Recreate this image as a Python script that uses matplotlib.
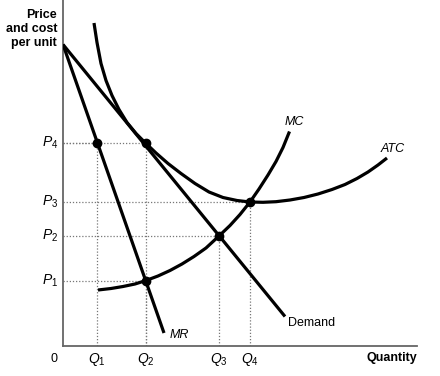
import matplotlib
matplotlib.use("Agg")
import matplotlib.pyplot as plt

plt.rcParams['font.family'] = ['Liberation Sans', 'DejaVu Sans']
plt.rcParams['mathtext.fontset'] = 'custom'
plt.rcParams['mathtext.rm'] = 'Liberation Sans'
plt.rcParams['mathtext.it'] = 'Liberation Sans:italic'

# ------------------ DATOS ------------------
q_ticks = [3.4, 8.3, 15.6, 18.7]
q_labels = [r'$Q_1$', r'$Q_2$', r'$Q_3$', r'$Q_4$']
p_ticks = [6.5, 10.95, 14.35, 20.25]
p_labels = [r'$P_1$', r'$P_2$', r'$P_3$', r'$P_4$']

demanda_q = [0.0, 22.2]
demanda_p = [30.1, 2.9]

ime_q = [0.0, 10.1]
ime_p = [30.1, 1.25]

cmg_q = [3.5, 4.8, 6.0, 7.2, 8.3, 9.5, 10.7, 11.9, 13.1, 14.3, 15.6, 16.7,
         17.7, 18.7, 19.6, 20.5, 21.3, 22.0, 22.65]
cmg_p = [5.55, 5.7, 5.9, 6.15, 6.5, 6.95, 7.5, 8.15, 8.9, 9.75, 10.95, 12.0,
         13.1, 14.35, 15.65, 17.05, 18.4, 19.8, 21.4]

ctme_q = [3.1, 3.4, 3.8, 4.3, 4.9, 5.6, 6.4, 7.3, 8.2, 9.3, 10.5, 11.8, 13.2,
          14.6, 16.0, 17.4, 18.7, 20.0, 21.3, 22.7, 24.1, 25.5, 26.9, 28.2,
          29.4, 30.5, 31.5, 32.4]
ctme_p = [32.25, 30.3, 28.2, 26.5, 25.0, 23.6, 22.3, 21.2, 20.3, 19.25, 18.2,
          17.2, 16.2, 15.35, 14.8, 14.5, 14.35, 14.32, 14.38, 14.55, 14.8,
          15.15, 15.6, 16.1, 16.7, 17.35, 18.05, 18.75]

# puntos marcados (índices de q_ticks, p_ticks)
puntos = [(0, 3), (1, 3), (3, 2), (2, 1), (1, 0)]

# ------------------ FIGURA ------------------
fig = plt.figure(figsize=(4.4, 3.76), dpi=100)
ax = fig.add_axes([63/440, 30.5/376, 354/440, 345.5/376])
ax.set_xlim(0, 35.4)
ax.set_ylim(0, 34.55)

for s in ['top', 'right']:
    ax.spines[s].set_visible(False)
for s in ['left', 'bottom']:
    ax.spines[s].set_color('#666666')
    ax.spines[s].set_linewidth(1.3)
ax.set_xticks([])
ax.set_yticks([])

# líneas punteadas guía
guia = dict(color='#777777', lw=0.9, ls=(0, (1, 1.5)), zorder=1)
for qi, pi in puntos:
    q, p = q_ticks[qi], p_ticks[pi]
    ax.plot([0, q], [p, p], **guia)
    ax.plot([q, q], [0, p], **guia)

curva = dict(color='black', lw=2.3, solid_capstyle='butt',
             solid_joinstyle='round', zorder=3)
ax.plot(demanda_q, demanda_p, **curva)
ax.plot(ime_q, ime_p, **curva)
ax.plot(cmg_q, cmg_p, **curva)
ax.plot(ctme_q, ctme_p, **curva)

for qi, pi in puntos:
    ax.plot(q_ticks[qi], p_ticks[pi], 'o', color='black', ms=6, zorder=4)

# etiquetas de ejes
for q, lab in zip(q_ticks, q_labels):
    ax.text(q, -0.6, lab, ha='center', va='top', fontsize=10)
for p, lab in zip(p_ticks, p_labels):
    ax.text(-0.5, p, lab, ha='right', va='center', fontsize=10)
ax.text(-0.9, -0.7, '0', ha='center', va='top', fontsize=9)
ax.text(35.4, -0.6, 'Quantity', ha='right', va='top', fontsize=9,
        fontweight='bold')
ax.text(-0.6, 33.7, 'Price\nand cost\nper unit', ha='right', va='top',
        fontsize=9, fontweight='bold', linespacing=1.25)

# etiquetas de curvas
ax.text(23.1, 22.35, 'MC', fontsize=9, style='italic', ha='center', va='center')
ax.text(32.95, 19.6, 'ATC', fontsize=9, style='italic', ha='center', va='center')
ax.text(10.7, 1.1, 'MR', fontsize=9, style='italic', ha='left', va='center')
ax.text(22.5, 2.2, 'Demand', fontsize=9, ha='left', va='center')

fig.savefig('out.png', dpi=100)
